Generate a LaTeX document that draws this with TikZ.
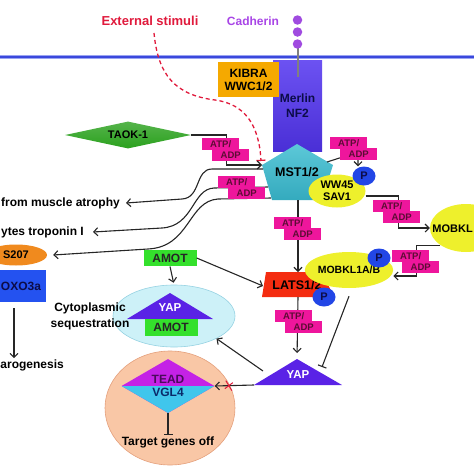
\documentclass[tikz,border=0pt]{standalone}
\usepackage{fontspec}
\setmainfont{Liberation Sans}
\usetikzlibrary{shapes.geometric,arrows.meta,positioning,calc}
\definecolor{membblue}{HTML}{3A48DC}
\definecolor{membhalo}{HTML}{9AA4F2}
\definecolor{extred}{HTML}{E01A3C}
\definecolor{cadpurple}{HTML}{A845E6}
\definecolor{beadpurple}{HTML}{A04BE0}
\definecolor{merlintop}{HTML}{6C52F2}
\definecolor{merlinbot}{HTML}{4A2FD6}
\definecolor{kibraorange}{HTML}{F5A900}
\definecolor{msttop}{HTML}{5CC8D8}
\definecolor{mstbot}{HTML}{34AABE}
\definecolor{taokgreen}{HTML}{2BA11E}
\definecolor{atppink}{HTML}{EE169C}
\definecolor{atptext}{HTML}{5C0C34}
\definecolor{sayellow}{HTML}{EEF02C}
\definecolor{pblue}{HTML}{2246E6}
\definecolor{pnavy}{HTML}{0C0C48}
\definecolor{latsred}{HTML}{F42C10}
\definecolor{yappurple}{HTML}{5A22E6}
\definecolor{amotgreen}{HTML}{34E02C}
\definecolor{cytocyan}{HTML}{CDF1F8}
\definecolor{cytoedge}{HTML}{96D2E2}
\definecolor{tgtpeach}{HTML}{F9C7A6}
\definecolor{tgtedge}{HTML}{E4A07C}
\definecolor{teadmag}{HTML}{C422E6}
\definecolor{vglcyan}{HTML}{40C6EC}
\definecolor{teadtext}{HTML}{4A0A5C}
\definecolor{vgltext}{HTML}{0A2A6A}
\definecolor{s207orange}{HTML}{F08A1E}
\definecolor{foxoblue}{HTML}{2452F0}

\newcommand{\fsz}[1]{\fontsize{#1}{#1}\selectfont}
% two stacked pink boxes, #2 = NW corner of the ATP/ box
\newcommand{\atpadp}[2]{%
  \node[atpbox] (#1a) at #2 {ATP/};
  \node[atpbox] (#1b) at ([shift={(10pt,-11pt)}]#1a.north west) {ADP};
}

\tikzset{
  txt/.style      = {inner sep=1pt, font=\fsz{12}\bfseries},
  atpbox/.style   = {rectangle, anchor=north west, fill=atppink, text=atptext,
                     minimum width=37pt, minimum height=11.5pt, inner sep=0pt,
                     font=\fsz{9.5}\bfseries},
  yellowell/.style= {ellipse, fill=sayellow, inner sep=0pt, align=center,
                     text=black, font=\fontsize{11}{12.5}\selectfont\bfseries},
  pcirc/.style    = {ellipse, fill=pblue, minimum width=23pt, minimum height=19pt,
                     inner sep=0pt, text=pnavy, font=\fsz{11}\bfseries},
  greenbox/.style = {rectangle, fill=amotgreen, minimum width=53pt,
                     minimum height=16.5pt, inner sep=0pt, text=black!85,
                     font=\fsz{12}\bfseries},
  arr/.style      = {-{Straight Barb[length=4pt,width=8pt]}, line width=1.1pt,
                     draw=black!85},
  inh/.style      = {-{Bar[width=9pt]}, line width=1.1pt, draw=black!85},
  extdash/.style  = {-{Bar[width=9pt]}, dash pattern=on 4pt off 3pt,
                     line width=1.3pt, draw=extred},
}

\begin{document}
\begin{tikzpicture}[x=1pt, y=-1pt, font=\fsz{12}\bfseries]
\useasboundingbox (0,0) rectangle (474,474);
\clip (0,0) rectangle (474,474);

%% membrane and receptors
\draw[membhalo, line width=4.5pt] (0,57) -- (474,57);
\draw[membblue, line width=2.2pt] (0,57) -- (474,57);
\node[rectangle, top color=merlintop, bottom color=merlinbot, minimum width=49pt,
      minimum height=91pt, align=center, text=pnavy,
      font=\fontsize{12}{15}\selectfont\bfseries] (merlin) at (297.5,105.5) {Merlin\\NF2};
\draw[black!50, line width=2pt] (297.5,47) -- (297.5,77);
\foreach \y/\n in {20/1,32/2,44/3}
  \node[circle, fill=beadpurple, minimum size=9.5pt, inner sep=0pt] (bead\n) at (297.5,\y) {};
\node[rectangle, fill=kibraorange, minimum width=61pt, minimum height=35pt,
      align=center, font=\fontsize{12}{13}\selectfont\bfseries] (kibra) at (248.5,79.5) {KIBRA\\WWC1/2};

\node[txt, text=extred, font=\fsz{13}\bfseries] (ext) at (150,21) {External stimuli};
\node[txt, text=cadpurple] (cad) at (253,21) {Cadherin};

%% MST1/2
\coordinate (mstT)  at (297,144);
\coordinate (mstE)  at (333,165);
\coordinate (mstSE) at (322,200);
\coordinate (mstSW) at (272,200);
\coordinate (mstW)  at (262,165);
\shade[top color=msttop, bottom color=mstbot] (mstT) -- (mstE) -- (mstSE) -- (mstSW) -- (mstW) -- cycle;
\node[txt, font=\fsz{12.5}\bfseries] (mst) at (297,172) {MST1/2};

\node[diamond, aspect=4.6, minimum width=126pt, minimum height=27pt, inner sep=0pt,
      top color=taokgreen!80!white, bottom color=taokgreen, font=\fsz{11}\bfseries] (taok) at (128,135) {TAOK-1};

\node[yellowell, minimum width=57pt, minimum height=33pt] (ww) at (337,191) {WW45\\SAV1};
\node[pcirc] (pww) at (364,176) {P};
\node[yellowell, minimum width=72pt, minimum height=48pt] (mobr) at (466,228) {};
\node[anchor=east, inner sep=0pt, font=\fsz{11}\bfseries] (mobrtxt) at (473,229) {MOBKL};

%% LATS1/2
\coordinate (latsNW) at (266,272);
\coordinate (latsNE) at (322,272);
\coordinate (latsSE) at (334,297);
\coordinate (latsSW) at (262,297);
\fill[latsred] (latsNW) -- (latsNE) -- (latsSE) -- (latsSW) -- cycle;
\node[txt, font=\fsz{12.5}\bfseries] (lats) at (297,285) {LATS1/2};
\coordinate (latsN) at (298,272);
\coordinate (latsS) at (298,297);
\coordinate (latsW) at (263,286);
\node[yellowell, minimum width=72pt, minimum height=36pt, font=\fsz{10.5}\bfseries] (mob) at (349,270) {MOBKL1A/B};
\node[pcirc] (pmob) at (379,258) {P};
\node[pcirc] (plats) at (324,297) {P};

%% YAP
\coordinate (yapT) at (297,359);
\coordinate (yapE) at (342,385);
\coordinate (yapW) at (254,385);
\fill[yappurple] (yapT) -- (yapE) -- (yapW) -- cycle;
\node[txt, text=white, font=\fsz{11.5}\bfseries] (yap) at (298,375) {YAP};

%% cytoplasmic sequestration
\node[greenbox] (amot) at (170,258) {AMOT};
\node[ellipse, fill=cytocyan, draw=cytoedge, line width=0.6pt, minimum width=122pt,
      minimum height=62pt] (cyto) at (174,316) {};
\fill[yappurple] (170,293) -- (213,319) -- (127,319) -- cycle;
\node[txt, text=white, font=\fsz{11.5}\bfseries] (yapin) at (170,308) {YAP};
\node[greenbox] (amotin) at (171,327.5) {AMOT};
\node[txt, align=center, font=\fontsize{12}{16}\selectfont\bfseries] (cytotxt) at (90,316) {Cytoplasmic\\sequestration};

%% target genes
\node[ellipse, fill=tgtpeach, draw=tgtedge, line width=0.6pt, minimum width=130pt,
      minimum height=114pt] (tgt) at (170,408) {};
\node[diamond, minimum width=93pt, minimum height=52pt, inner sep=0pt, fill=teadmag,
      align=center, font=\fontsize{12}{13}\selectfont\bfseries,
      path picture={\fill[vglcyan] (path picture bounding box.west) rectangle (path picture bounding box.south east);}]
      (tead) at (168,386) {\textcolor{teadtext}{TEAD}\\\textcolor{vgltext}{VGL4}};
\node[txt] (tgttxt) at (168,442) {Target genes off};

%% left side
\node[txt, anchor=east] (musc) at (121,203) {from muscle atrophy};
\node[txt, anchor=east] (trop) at (85,232) {ytes troponin I};
\node[ellipse, fill=s207orange, minimum width=62pt, minimum height=21pt, inner sep=0pt,
      font=\fsz{11}\bfseries] (s207) at (16,255) {S207};
\node[rectangle, fill=foxoblue, minimum width=50pt, minimum height=32pt, inner sep=0pt,
      text=pnavy] (foxo) at (21,286) {OXO3a};
\node[txt, anchor=east] (myo) at (65,365) {arogenesis};

%% Arrows
\draw[extdash] (ext.south) ++(4,6) .. controls (158,75) and (175,95) .. (215,100)
      .. controls (245,104) and (259,125) .. (261,161);
\draw[arr] (taok.east) -- ++(35,0) |- (mstW);
\coordinate (mstNE) at (327,162);
\draw[arr] (mstNE) -- (352,154) -| ([xshift=-6pt]pww.north);
\draw[arr] ([yshift=-5pt]ww.east) -- ++(33,0) |- (mobr.west);
\draw[arr] (mobr.south west) -- ++(-24,0) |- ([yshift=-6pt]mob.east);
\coordinate (mstS) at (298,200);
\draw[arr] (mstS) -- (latsN);
\draw[arr, shorten >=6pt] (latsS) -- (yapT);
\coordinate (yapR) at (322,367);
\draw[inh] ([yshift=-8pt]mob.south) -- (yapR);
\coordinate (yapL) at (263,371);
\draw[arr] (yapL) -- (cyto.-28);
\draw[arr] (yapW) -- (tead.east) coordinate[pos=0.64] (xm);
\draw[extred, line width=1pt] ([shift={(-3,-5)}]xm) -- ([shift={(3,5)}]xm)
      ([shift={(-4,3)}]xm) -- ([shift={(4,-3)}]xm);
\draw[inh] (tead.south) -- (tgttxt.north);
\draw[arr] (amot.east) -- (latsW);
\draw[arr, shorten >=2pt] (amot.south) -- (cyto.north);

\coordinate (mA) at (263,169);
\coordinate (mB) at (268,187);
\coordinate (mC) at (271,198);
\draw[arr] (mA) -- (212,169) .. controls (195,169) and (201,198) .. (182,199) -- ([xshift=5pt]musc.east);
\draw[arr] (mB) -- (214,188) .. controls (192,189) and (194,226) .. (162,228) -- ([xshift=8pt]trop.east);
\draw[arr] (mC) -- (218,199) .. controls (188,201) and (190,247) .. (148,249) -- ([xshift=6pt]s207.east);
\draw[arr, shorten <=6pt] ([xshift=-7pt]foxo.south) -- ([xshift=-7pt]foxo.south |- myo.north);

%% ATP/ADP labels
\atpadp{atptaok}{(202,138)}
\atpadp{atpww}{(330,137)}
\atpadp{atpleft}{(218,176)}
\atpadp{atpmob}{(373,200)}
\atpadp{atpmobr}{(392,250)}
\atpadp{atplats}{(274,217)}
\atpadp{atpyap}{(275,310)}

\end{tikzpicture}
\end{document}
